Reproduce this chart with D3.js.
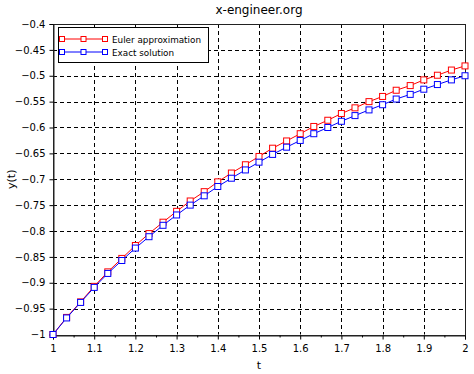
<!DOCTYPE html>
<html><head><meta charset="utf-8">
<script src="https://cdnjs.cloudflare.com/ajax/libs/d3/7.8.5/d3.min.js"></script>
<style>body{margin:0;background:#fff}svg{display:block}text{font-family:"DejaVu Sans",sans-serif;fill:#000}</style>
</head><body>
<script>
const title = "x-engineer.org";
const xLabel = "t";
const yLabel = "y(t)";
const seriesNames = ["Euler approximation", "Exact solution"];
const tValues = [1.000,1.033,1.067,1.100,1.133,1.167,1.200,1.233,1.267,1.300,1.333,1.367,1.400,1.433,1.467,1.500,1.533,1.567,1.600,1.633,1.667,1.700,1.733,1.767,1.800,1.833,1.867,1.900,1.933,1.967,2.000];
const eulerValues = [-1.000,-0.967,-0.937,-0.907,-0.879,-0.853,-0.828,-0.805,-0.783,-0.762,-0.742,-0.724,-0.705,-0.688,-0.672,-0.656,-0.640,-0.626,-0.612,-0.598,-0.586,-0.573,-0.562,-0.550,-0.540,-0.528,-0.519,-0.508,-0.499,-0.489,-0.481];
const exactValues = [-1.000,-0.968,-0.938,-0.909,-0.882,-0.857,-0.833,-0.811,-0.789,-0.769,-0.750,-0.732,-0.714,-0.698,-0.682,-0.667,-0.652,-0.638,-0.625,-0.612,-0.600,-0.588,-0.577,-0.566,-0.556,-0.545,-0.536,-0.526,-0.517,-0.508,-0.500];
const xTicks = [1,1.1,1.2,1.3,1.4,1.5,1.6,1.7,1.8,1.9,2];
const xMinorTicks = [1.05,1.15,1.25,1.35,1.45,1.55,1.65,1.75,1.85,1.95];
const yTicks = [-1,-0.95,-0.9,-0.85,-0.8,-0.75,-0.7,-0.65,-0.6,-0.55,-0.5,-0.45,-0.4];
const colors = ["#ff0000", "#0000ff"];

const W = 474, H = 374;
const m = {left:53, right:465, top:24, bottom:334.5};
const svg = d3.select("body").append("svg").attr("width", W).attr("height", H);
const x = d3.scaleLinear().domain([1,2]).range([m.left, m.right]);
const y = d3.scaleLinear().domain([-1,-0.4]).range([m.bottom, m.top]);

// grid
const g = svg.append("g");
g.selectAll("line.vx").data(xTicks.slice(1,-1)).enter().append("line")
  .attr("x1", d=>Math.round(x(d))+0.5).attr("x2", d=>Math.round(x(d))+0.5)
  .attr("y1", m.top).attr("y2", m.bottom)
  .attr("stroke","#000").attr("stroke-width",1).attr("stroke-dasharray","4,3");
g.selectAll("line.hy").data(yTicks.slice(1,-1)).enter().append("line")
  .attr("x1", m.left).attr("x2", m.right)
  .attr("y1", d=>Math.round(y(d))+0.5).attr("y2", d=>Math.round(y(d))+0.5)
  .attr("stroke","#000").attr("stroke-width",1).attr("stroke-dasharray","4,3");

// box
svg.append("rect").attr("x", m.left+0.5).attr("y", m.top+0.5)
  .attr("width", m.right-m.left).attr("height", Math.round(m.bottom)-m.top)
  .attr("fill","none").attr("stroke","#222").attr("stroke-width",1);

// axes
const xAxis = d3.axisBottom(x).tickValues(xTicks).tickFormat(d=>d3.format("")(d)).tickSize(4).tickPadding(5);
const xa = svg.append("g").attr("transform", `translate(0,${Math.round(m.bottom)+0.5})`).call(xAxis);
xa.select(".domain").attr("stroke","#222");
xa.selectAll("text").attr("font-size", 10);
const xMinor = d3.axisBottom(x).tickValues(xMinorTicks).tickFormat("").tickSize(2);
const xm = svg.append("g").attr("transform", `translate(0,${Math.round(m.bottom)+0.5})`).call(xMinor);
xm.select(".domain").remove();

const yAxis = d3.axisLeft(y).tickValues(yTicks).tickFormat(d=>d3.format("")(+d.toFixed(2))).tickSize(4).tickPadding(4);
const ya = svg.append("g").attr("transform", `translate(${m.left+0.5},0)`).call(yAxis);
ya.select(".domain").attr("stroke","#222");
ya.selectAll("text").attr("font-size", 10);

// labels
svg.append("text").attr("x", (m.left+m.right)/2).attr("y", 14).attr("text-anchor","middle").attr("font-size", 12).text(title);
svg.append("text").attr("x", (m.left+m.right)/2).attr("y", 369).attr("text-anchor","middle").attr("font-size", 11).text(xLabel);
svg.append("text").attr("transform", `translate(15,${(m.top+m.bottom)/2}) rotate(-90)`).attr("text-anchor","middle").attr("font-size", 11).text(yLabel);

// series
const series = [eulerValues, exactValues];
const line = d3.line().x((d,i)=>x(tValues[i])).y(d=>y(d));
series.forEach((vals, si) => {
  const sg = svg.append("g");
  sg.append("path").datum(vals).attr("d", line).attr("fill","none").attr("stroke", colors[si]).attr("stroke-width",1);
  sg.selectAll("rect").data(vals).enter().append("rect")
    .attr("x", (d,i)=>x(tValues[i])-3).attr("y", d=>y(d)-3)
    .attr("width",6).attr("height",6)
    .attr("fill","#fff").attr("stroke", colors[si]).attr("stroke-width",1);
});

// legend
const lg = svg.append("g");
lg.append("rect").attr("x", 58.5).attr("y", 27.5).attr("width", 150).attr("height", 35)
  .attr("fill","#fff").attr("stroke","#000").attr("stroke-width",1);
seriesNames.forEach((name, i) => {
  const ly = 39 + i*13;
  lg.append("line").attr("x1", 62).attr("x2", 105).attr("y1", ly).attr("y2", ly).attr("stroke", colors[i]);
  [62, 83.5, 105].forEach(px => {
    lg.append("rect").attr("x", px-2.5).attr("y", ly-2.5).attr("width",5).attr("height",5)
      .attr("fill","#fff").attr("stroke", colors[i]);
  });
  lg.append("text").attr("x", 112).attr("y", ly+3.5).attr("font-size", 8.8).text(name);
});
</script>
</body></html>
